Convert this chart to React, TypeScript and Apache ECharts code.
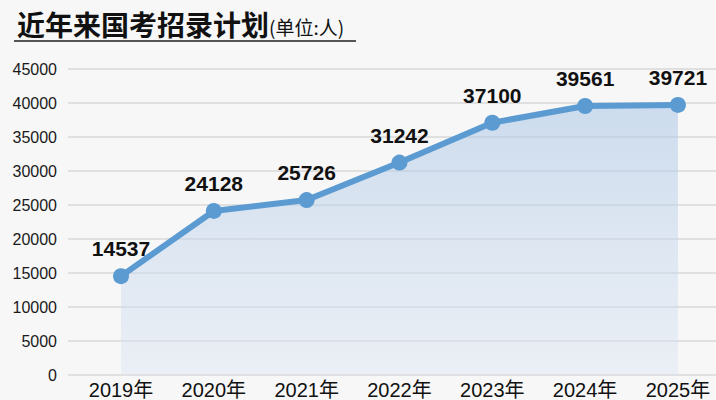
import React, { useEffect, useRef } from 'react';
import * as echarts from 'echarts';

const years = ['2019年', '2020年', '2021年', '2022年', '2023年', '2024年', '2025年'];
const hires = [14537, 24128, 25726, 31242, 37100, 39561, 39721];
const yTicks = [0, 5000, 10000, 15000, 20000, 25000, 30000, 35000, 40000, 45000];

const sans = '"Liberation Sans", Arial, "Noto Sans CJK SC", sans-serif';
const cjk = '"Noto Sans CJK SC", sans-serif';

const App: React.FC = () => {
  const chartRef = useRef<HTMLDivElement>(null);

  useEffect(() => {
    if (!chartRef.current) return;
    const chart = echarts.init(chartRef.current, undefined, { renderer: 'svg' });

    const option: echarts.EChartsOption = {
      animation: false,
      backgroundColor: '#f7f7f7',
      title: {
        left: 12,
        top: 5,
        text: '{a|近年来国考招录计划}{b|(单位:人)}',
        textStyle: {
          rich: {
            a: { fontFamily: cjk, fontSize: 28, fontWeight: 'bold', color: '#111' },
            b: { fontFamily: cjk, fontSize: 19, fontWeight: 'normal', color: '#111', padding: [5, 0, 0, 0] },
          },
        },
      },
      graphic: [
        {
          type: 'line',
          shape: { x1: 14, y1: 41, x2: 356, y2: 41 },
          style: { stroke: '#555', lineWidth: 2 },
        },
      ],
      grid: { left: 68, right: 0, top: 69, bottom: 21 },
      xAxis: {
        type: 'value',
        min: -0.571,
        max: 6.41,
        axisLine: { show: false },
        axisTick: { show: false },
        splitLine: { show: false },
        axisLabel: {
          customValues: years.map((_, i) => i),
          formatter: (v: number) => years[Math.round(v)] ?? '',
          fontFamily: sans,
          fontSize: 20,
          color: '#111',
          margin: 5,
        },
      },
      yAxis: {
        type: 'value',
        min: yTicks[0],
        max: yTicks[yTicks.length - 1],
        interval: 5000,
        axisLine: { show: false },
        axisTick: { show: false },
        axisLabel: {
          formatter: (v: number) => String(v),
          fontFamily: sans,
          fontSize: 16,
          color: '#1a1a1a',
          margin: 11,
        },
        splitLine: { lineStyle: { color: '#d9d9d9', width: 1.5 } },
      },
      series: [
        {
          type: 'line',
          data: hires.map((v, i) => [i, v]),
          symbol: 'circle',
          symbolSize: 16,
          lineStyle: { color: '#5b9bd1', width: 6 },
          itemStyle: { color: '#5b9bd1' },
          areaStyle: {
            color: new echarts.graphic.LinearGradient(0, 0, 0, 1, [
              { offset: 0, color: 'rgba(170, 198, 230, 0.8)' },
              { offset: 1, color: 'rgba(218, 228, 243, 0.6)' },
            ]),
          },
          label: {
            show: true,
            position: 'top',
            distance: 9,
            formatter: (p: any) => String(p.value[1]),
            fontFamily: sans,
            fontSize: 21,
            fontWeight: 'bold',
            color: '#111',
          },
        },
      ],
    };

    chart.setOption(option);
    return () => {
      chart.dispose();
    };
  }, []);

  return (
    <div
      ref={chartRef}
      style={{ position: 'fixed', left: 0, top: 0, width: '716px', height: '400px' }}
    ></div>
  );
};

export default App;
